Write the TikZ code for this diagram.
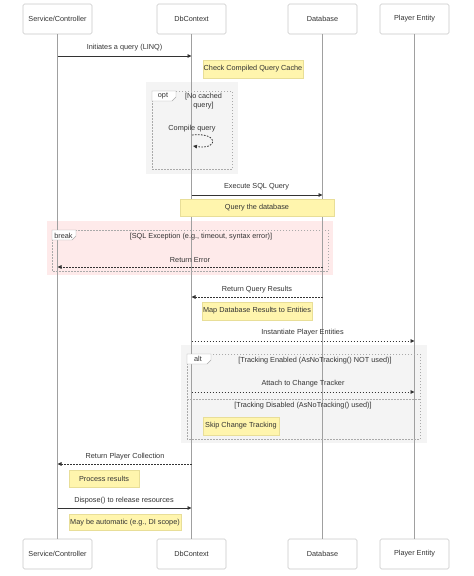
\documentclass[tikz,border=0pt]{standalone}
\usepackage{fontspec}
\setmainfont{Liberation Sans}
\usetikzlibrary{arrows.meta}
\definecolor{txt}{HTML}{333333}
\definecolor{actborder}{HTML}{C8C8C8}
\definecolor{lifegray}{HTML}{A0A0A0}
\definecolor{framegray}{HTML}{AAAAAA}
\definecolor{notefill}{HTML}{FFF5AD}
\definecolor{noteborder}{HTML}{E8DE98}
\definecolor{bggray}{HTML}{F4F4F4}
\definecolor{bgpink}{HTML}{FEEAEA}
\tikzset{
  lbl/.style={text=txt,font=\fontsize{7.3}{8.6}\selectfont,inner sep=0pt},
  actorbox/.style={draw=actborder,fill=white,rounded corners=1.5pt,line width=0.6pt,minimum width=69pt,minimum height=30pt,lbl},
  lifeline/.style={draw=lifegray,line width=0.7pt},
  msgline/.style={draw=txt,line width=0.8pt,-{Triangle[length=4pt,width=3.6pt]}},
  replyline/.style={msgline,dash pattern=on 1.6pt off 1.4pt},
  notebox/.style={fill=notefill,draw=noteborder,line width=0.4pt,lbl},
  framebox/.style={draw=framegray,line width=0.5pt,dash pattern=on 1.5pt off 1.5pt},
  framelabel/.style={draw=framegray,fill=white,line width=0.4pt}
}
\begin{document}
\begin{tikzpicture}[x=1pt,y=-1pt]
\useasboundingbox (0,0) rectangle (474,576);
% backgrounds
\fill[bggray] (146,82) rectangle (238,174);
\fill[bgpink] (47,221) rectangle (333,275);
\fill[bggray] (181,345) rectangle (427,443);
% actors
\node[actorbox] (sc)  at (57.5,19) {Service/Controller};
\node[actorbox] (dbc) at (191.5,19) {DbContext};
\node[actorbox] (db)  at (322.5,19) {Database};
\node[actorbox] (pe)  at (414.5,19) {Player Entity};
\node[actorbox] (scb)  at (57.5,554) {Service/Controller};
\node[actorbox] (dbcb) at (191.5,554) {DbContext};
\node[actorbox] (dbb)  at (322.5,554) {Database};
\node[actorbox] (peb)  at (414.5,554) {Player Entity};
% lifelines
\draw[lifeline] (sc.south) -- (scb.north);
\draw[lifeline] (dbc.south) -- (dbcb.north);
\draw[lifeline] (db.south) -- (dbb.north);
\draw[lifeline] (pe.south) -- (peb.north);
% frames
\draw[framebox] (152,91) rectangle (232,169);
\draw[framelabel] (152,91) -- (176,91) -- (176,97) -- (172,101) -- (152,101) -- cycle;
\node[lbl] (optl) at (163,96) {opt};
\node[lbl,align=center] (optc) at (203.5,101) {[No cached\\query]};

\draw[framebox] (52,230) rectangle (328,271);
\draw[framelabel] (52,230) -- (76,230) -- (76,236) -- (72,240) -- (52,240) -- cycle;
\node[lbl] (brl) at (63.5,235.5) {break};
\node[lbl] (brc) at (201,237) {[SQL Exception (e.g., timeout, syntax error)]};

\draw[framebox] (187,354) rectangle (420,439);
\draw[framelabel] (187,354) -- (211,354) -- (211,360) -- (207,364) -- (187,364) -- cycle;
\node[lbl] (altl) at (198,359) {alt};
\node[lbl] (altc) at (315,361) {[Tracking Enabled (AsNoTracking() NOT used)]};
\draw[framebox] (187,399) -- (420,399);
\node[lbl] (altd) at (303,406) {[Tracking Disabled (AsNoTracking() used)]};
% notes
\node[notebox,minimum width=100pt,minimum height=18pt] (n1) at (253,69) {Check Compiled Query Cache};
\node[notebox,minimum width=154pt,minimum height=17pt] (n2) at (257,207.5) {Query the database};
\node[notebox,minimum width=110pt,minimum height=18pt] (n3) at (257,311) {Map Database Results to Entities};
\node[notebox,minimum width=76pt,minimum height=18pt] (n4) at (241,426) {Skip Change Tracking};
\node[notebox,minimum width=70pt,minimum height=17pt] (n5) at (104,478.5) {Process results};
\node[notebox,minimum width=112pt,minimum height=16pt] (n6) at (125,522.5) {May be automatic (e.g., DI scope)};
% messages
\coordinate (m1a) at (57.5,56);  \coordinate (m1b) at (191.5,56);
\draw[msgline] (m1a) -- (m1b);
\node[lbl] (t1) at (124.5,48) {Initiates a query (LINQ)};

\coordinate (s1a) at (192,135); \coordinate (s1b) at (193,146);
\draw[replyline] (s1a) .. controls (219,132) and (219,150) .. (s1b);
\node[lbl] (t2) at (192,129) {Compile query};

\coordinate (m2a) at (191.5,195); \coordinate (m2b) at (322.5,195);
\draw[msgline] (m2a) -- (m2b);
\node[lbl] (t3) at (256.5,187) {Execute SQL Query};

\coordinate (m3a) at (322.5,267); \coordinate (m3b) at (57.5,267);
\draw[replyline] (m3a) -- (m3b);
\node[lbl] (t4) at (190,260) {Return Error};

\coordinate (m4a) at (322.5,297); \coordinate (m4b) at (191.5,297);
\draw[replyline] (m4a) -- (m4b);
\node[lbl] (t5) at (257,290) {Return Query Results};

\coordinate (m5a) at (191.5,341); \coordinate (m5b) at (414.5,341);
\draw[replyline] (m5a) -- (m5b);
\node[lbl] (t6) at (302.5,333) {Instantiate Player Entities};

\coordinate (m6a) at (191.5,392); \coordinate (m6b) at (414.5,392);
\draw[replyline] (m6a) -- (m6b);
\node[lbl] (t7) at (303,384) {Attach to Change Tracker};

\coordinate (m7a) at (191.5,464); \coordinate (m7b) at (57.5,464);
\draw[replyline] (m7a) -- (m7b);
\node[lbl] (t8) at (125,457) {Return Player Collection};

\coordinate (m8a) at (57.5,508); \coordinate (m8b) at (191.5,508);
\draw[msgline] (m8a) -- (m8b);
\node[lbl] (t9) at (124,501) {Dispose() to release resources};
\end{tikzpicture}
\end{document}
